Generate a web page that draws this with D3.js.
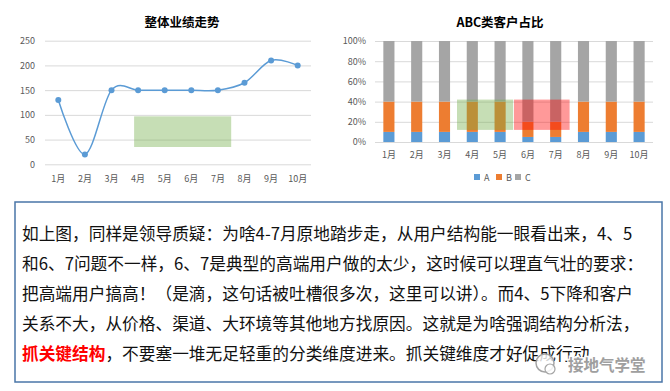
<!DOCTYPE html>
<html>
<head>
<meta charset="utf-8">
<script src="https://cdn.jsdelivr.net/npm/d3@7"></script>
<style>
  html, body { margin: 0; padding: 0; background: #fff; }
  svg { display: block; }
</style>
</head>
<body>
<svg id="chart" width="670" height="391"></svg>
<script>
// ---------- data ----------
const months = ['1月','2月','3月','4月','5月','6月','7月','8月','9月','10月'];
const sales = [130, 20, 150, 150, 150, 150, 150, 165, 210, 200];
const leftTicks = [0, 50, 100, 150, 200, 250];
const shareA = [10, 10, 10, 10, 10, 5, 5, 10, 10, 10];
const shareB = [30, 30, 30, 30, 30, 15, 15, 30, 30, 30];
const shareC = [60, 60, 60, 60, 60, 80, 80, 60, 60, 60];
const rightTicks = [0, 20, 40, 60, 80, 100];
const seriesNames = ['A', 'B', 'C'];
const leftTitle = '整体业绩走势';
const rightTitle = 'ABC类客户占比';
// highlight boxes: [startIndexOffset, endIndexOffset, low, high]
const leftHighlight = { from: 3, fromOff: -0.15, to: 6, toOff: 0.5, low: 35, high: 97 };
const rightGreen = { from: 3, fromOff: -0.55, to: 4, toOff: 0.47, low: 12, high: 42 };
const rightRed = { from: 5, fromOff: -0.5, to: 6, toOff: 0.5, low: 12, high: 42 };
const bodyLines = [
  [{t:'如上图，同样是领导质疑：为啥4-7月原地踏步走，从用户结构能一眼看出来，4、5'}],
  [{t:'和6、7问题不一样，6、7是典型的高端用户做的太少，这时候可以理直气壮的要求：'}],
  [{t:'把高端用户搞高！（是滴，这句话被吐槽很多次，这里可以讲）。而4、5下降和客户'}],
  [{t:'关系不大，从价格、渠道、大环境等其他地方找原因。这就是为啥强调结构分析法，'}],
  [{t:'抓关键结构', red:true}, {t:'，不要塞一堆无足轻重的分类维度进来。抓关键维度才好促成行动'}]
];
const watermark = '接地气学堂';

const colors = { A: '#5B9BD5', B: '#ED7D31', C: '#A5A5A5' };
const font = "'Noto Sans CJK SC', 'Microsoft YaHei', sans-serif";
const svg = d3.select('#chart');

// ---------- left chart ----------
const L = { x0: 45, x1: 311, y0: 164.3, y1: 40.7 };
const lx = d3.scaleBand().domain(months).range([L.x0, L.x1]);
const ly = d3.scaleLinear().domain([0, 250]).range([L.y0, L.y1]);
const lg = svg.append('g');

lg.append('text').attr('x', 182).attr('y', 27).attr('text-anchor', 'middle')
  .attr('font-family', font).attr('font-weight', 'bold').attr('font-size', 12.5)
  .attr('fill', '#000').text(leftTitle);

const lyAxis = lg.append('g').attr('transform', `translate(${L.x0},0)`)
  .call(d3.axisLeft(ly).tickValues(leftTicks).tickSize(-(L.x1 - L.x0)).tickPadding(10));
lyAxis.select('.domain').remove();
lyAxis.selectAll('.tick line').attr('stroke', '#D9D9D9').attr('stroke-width', 1);
lyAxis.selectAll('.tick text').attr('font-family', font).attr('font-size', 9).attr('fill', '#595959');

const lxAxis = lg.append('g').attr('transform', `translate(0,${L.y0})`)
  .call(d3.axisBottom(lx).tickSize(0).tickPadding(11));
lxAxis.select('.domain').remove();
lxAxis.selectAll('.tick text').attr('font-family', font).attr('font-size', 9).attr('fill', '#595959');

const bw = lx.step();
const lcx = i => lx(months[i]) + lx.bandwidth() / 2;
lg.append('rect')
  .attr('x', lcx(leftHighlight.from) + leftHighlight.fromOff * bw)
  .attr('y', ly(leftHighlight.high))
  .attr('width', (lcx(leftHighlight.to) + leftHighlight.toOff * bw) - (lcx(leftHighlight.from) + leftHighlight.fromOff * bw))
  .attr('height', ly(leftHighlight.low) - ly(leftHighlight.high))
  .attr('fill', '#70AD47').attr('fill-opacity', 0.4);

const line = d3.line().x((d, i) => lcx(i)).y(d => ly(d)).curve(d3.curveCardinal.tension(0));
lg.append('path').datum(sales).attr('d', line).attr('fill', 'none')
  .attr('stroke', '#5B9BD5').attr('stroke-width', 1.5);
lg.selectAll('circle.pt').data(sales).join('circle').attr('class', 'pt')
  .attr('cx', (d, i) => lcx(i)).attr('cy', d => ly(d)).attr('r', 3)
  .attr('fill', '#5B9BD5');

// ---------- right chart ----------
const R = { x0: 375, x1: 653, y0: 142, y1: 41 };
const rx = d3.scaleBand().domain(months).range([R.x0, R.x1]).paddingInner(0.6).paddingOuter(0.3);
const ry = d3.scaleLinear().domain([0, 100]).range([R.y0, R.y1]);
const rg = svg.append('g');

rg.append('text').attr('x', 500).attr('y', 27).attr('text-anchor', 'middle')
  .attr('font-family', font).attr('font-weight', 'bold').attr('font-size', 12.5)
  .attr('fill', '#000').text(rightTitle);

const ryAxis = rg.append('g').attr('transform', `translate(${R.x0},0)`)
  .call(d3.axisLeft(ry).tickValues(rightTicks).tickFormat(d => d + '%').tickSize(-(R.x1 - R.x0)).tickPadding(9));
ryAxis.select('.domain').remove();
ryAxis.selectAll('.tick line').attr('stroke', '#D9D9D9').attr('stroke-width', 1);
ryAxis.selectAll('.tick text').attr('font-family', font).attr('font-size', 9).attr('fill', '#595959');

const rxAxis = rg.append('g').attr('transform', `translate(0,${R.y0})`)
  .call(d3.axisBottom(rx).tickSize(0).tickPadding(10));
rxAxis.select('.domain').remove();
rxAxis.selectAll('.tick text').attr('font-family', font).attr('font-size', 9).attr('fill', '#595959');

const table = months.map((m, i) => ({ month: m, A: shareA[i], B: shareB[i], C: shareC[i] }));
const stacked = d3.stack().keys(seriesNames)(table);
rg.selectAll('g.series').data(stacked).join('g').attr('class', 'series')
  .attr('fill', d => colors[d.key])
  .selectAll('rect').data(d => d).join('rect')
  .attr('x', d => rx(d.data.month)).attr('width', rx.bandwidth())
  .attr('y', d => ry(d[1])).attr('height', d => ry(d[0]) - ry(d[1]));

const rstep = rx.step();
const rcx = i => rx(months[i]) + rx.bandwidth() / 2;
function hbox(h, fill, op) {
  const xa = rcx(h.from) + h.fromOff * rstep, xb = rcx(h.to) + h.toOff * rstep;
  rg.append('rect').attr('x', xa).attr('width', xb - xa)
    .attr('y', ry(h.high)).attr('height', ry(h.low) - ry(h.high))
    .attr('fill', fill).attr('fill-opacity', op);
}
hbox(rightGreen, '#70AD47', 0.4);
hbox(rightRed, '#FF0000', 0.4);

// legend
const legX = [474, 496, 515];
const leg = rg.selectAll('g.leg').data(seriesNames).join('g').attr('class', 'leg')
  .attr('transform', (d, i) => `translate(${legX[i]},174)`);
leg.append('rect').attr('width', 6).attr('height', 6).attr('fill', d => colors[d]);
leg.append('text').attr('x', 10).attr('y', 6.5).attr('font-family', font).attr('font-size', 9)
  .attr('fill', '#595959').text(d => d);

// ---------- text box ----------
const tb = svg.append('g');
tb.append('rect').attr('x', 15).attr('y', 202).attr('width', 647).attr('height', 180)
  .attr('fill', '#fff').attr('stroke', '#4A76A8').attr('stroke-width', 1.5);
bodyLines.forEach((segs, i) => {
  const t = tb.append('text').attr('x', 22).attr('y', 239.5 + i * 30.2)
    .attr('font-family', font).attr('font-size', 16.7).attr('fill', '#111');
  segs.forEach(s => {
    const ts = t.append('tspan').text(s.t);
    if (s.red) ts.attr('fill', '#FF0000').attr('font-weight', 'bold');
  });
});

// watermark
const wm = svg.append('g').attr('opacity', 0.95);
wm.append('circle').attr('cx', 545).attr('cy', 363).attr('r', 9)
  .attr('fill', 'rgba(255,255,255,0.85)').attr('stroke', '#A0A0A0').attr('stroke-width', 1.5);
wm.append('circle').attr('cx', 550).attr('cy', 369).attr('r', 5)
  .attr('fill', 'rgba(255,255,255,0.85)').attr('stroke', '#A0A0A0').attr('stroke-width', 1.2);
wm.append('text').attr('x', 568).attr('y', 371).attr('font-family', font).attr('font-size', 15.5)
  .attr('font-weight', 'bold').attr('fill', '#9A9A9A').attr('stroke', '#fff').attr('stroke-width', 3)
  .attr('paint-order', 'stroke').text(watermark);
</script>
</body>
</html>
